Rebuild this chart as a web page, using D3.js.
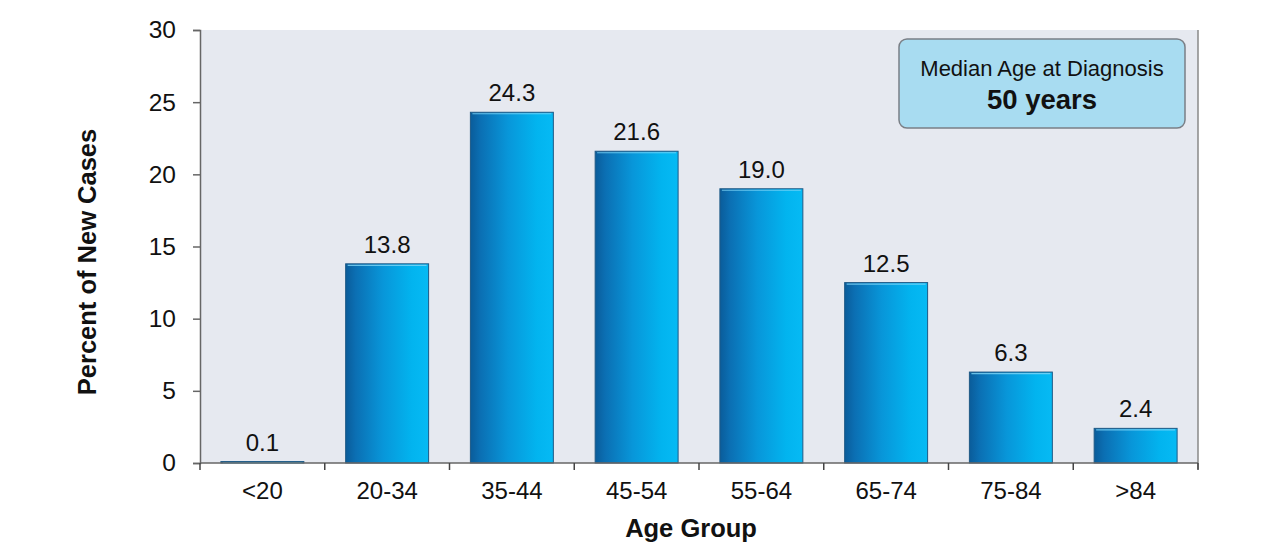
<!DOCTYPE html>
<html><head><meta charset="utf-8">
<script src="https://cdn.jsdelivr.net/npm/d3@7"></script>
<style>body{margin:0;background:#fff;} text{font-family:"Liberation Sans",Arial,sans-serif;}</style>
</head><body>
<svg id="c" width="1280" height="557"></svg>
<script>
const categories = ["<20","20-34","35-44","45-54","55-64","65-74","75-84",">84"];
const values = [0.1,13.8,24.3,21.6,19.0,12.5,6.3,2.4];
const yTicks = [0,5,10,15,20,25,30];
const boxLines = ["Median Age at Diagnosis","50 years"];

const svg = d3.select("#c");
const m = {l:200, r:1198, t:30, b:463};
const x = d3.scaleBand().domain(categories).range([m.l, m.r]).paddingInner(0.335).paddingOuter(0.1675);
const y = d3.scaleLinear().domain([0,30]).range([m.b, m.t]);

const defs = svg.append("defs");
const g = defs.append("linearGradient").attr("id","bg").attr("x1","0").attr("x2","1").attr("y1","0").attr("y2","0");
[[0,"#0a5c9a"],[0.12,"#0b6fb3"],[0.45,"#0896d9"],[0.8,"#02b4ef"],[1,"#06baf4"]].forEach(([o,c])=>g.append("stop").attr("offset",o).attr("stop-color",c));

svg.append("rect").attr("x",m.l).attr("y",m.t).attr("width",m.r-m.l).attr("height",m.b-m.t).attr("fill","#e6e9f0");
svg.append("line").attr("x1",m.r).attr("x2",m.r).attr("y1",m.t).attr("y2",m.b+6).attr("stroke","#888").attr("stroke-width",1.5);

// bars
const bars = svg.append("g");
bars.selectAll("rect.bar").data(values).join("rect").attr("class","bar")
  .attr("x",(d,i)=>x(categories[i])).attr("width",x.bandwidth())
  .attr("y",d=>y(d)).attr("height",d=>y(0)-y(d))
  .attr("fill","url(#bg)").attr("stroke","#1f5a86").attr("stroke-width",1);
bars.selectAll("line.hl").data(values).join("line").attr("class","hl")
  .attr("x1",(d,i)=>x(categories[i])+2).attr("x2",(d,i)=>x(categories[i])+x.bandwidth()-2)
  .attr("y1",d=>y(d)+1.5).attr("y2",d=>y(d)+1.5).attr("stroke","#7fd6f7").attr("stroke-width",1.2).attr("opacity",0.8);
bars.selectAll("text").data(values).join("text")
  .attr("x",(d,i)=>x(categories[i])+x.bandwidth()/2).attr("y",d=>y(d)-11)
  .attr("text-anchor","middle").attr("font-size",24).attr("fill","#111").text(d=>d.toFixed(1));

// y axis
const ya = svg.append("g").attr("transform",`translate(${m.l},0)`)
  .call(d3.axisLeft(y).tickValues(yTicks).tickSize(7).tickPadding(17).tickFormat(d3.format("d")));
ya.select(".domain").attr("stroke","#666").attr("stroke-width",1.5);
ya.selectAll(".tick line").attr("stroke","#666").attr("stroke-width",1.5);
ya.selectAll("text").attr("font-size",24.5).attr("fill","#111").attr("font-family","Liberation Sans, Arial, sans-serif");

// x axis
const xa = svg.append("g").attr("transform",`translate(0,${m.b})`)
  .call(d3.axisBottom(x).tickSize(0).tickPadding(0));
xa.select(".domain").remove();
xa.selectAll("text").attr("y",36).attr("dy",null).attr("font-size",24).attr("fill","#111").attr("font-family","Liberation Sans, Arial, sans-serif");
svg.append("line").attr("x1",m.l).attr("x2",m.r).attr("y1",m.b).attr("y2",m.b).attr("stroke","#666").attr("stroke-width",1.5);
const step = x.step();
svg.append("g").selectAll("line").data(d3.range(categories.length+1)).join("line")
  .attr("x1",i=>m.l+i*step).attr("x2",i=>m.l+i*step).attr("y1",m.b).attr("y2",m.b+7)
  .attr("stroke","#444").attr("stroke-width",1.5);

// axis titles
svg.append("text").attr("x",691).attr("y",537).attr("text-anchor","middle").attr("font-size",25.5).attr("font-weight","bold").attr("fill","#111").text("Age Group");
svg.append("text").attr("transform","translate(96,262) rotate(-90)").attr("text-anchor","middle").attr("font-size",25.5).attr("font-weight","bold").attr("fill","#111").text("Percent of New Cases");

// box
svg.append("rect").attr("x",899).attr("y",39).attr("width",286).attr("height",89).attr("rx",8)
  .attr("fill","#a8dcf1").attr("stroke","#7a7f86").attr("stroke-width",1.5);
svg.append("text").attr("x",1042).attr("y",76).attr("text-anchor","middle").attr("font-size",22).attr("fill","#111").text(boxLines[0]);
svg.append("text").attr("x",1042).attr("y",109).attr("text-anchor","middle").attr("font-size",27.5).attr("font-weight","bold").attr("fill","#111").text(boxLines[1]);
</script>
</body></html>
